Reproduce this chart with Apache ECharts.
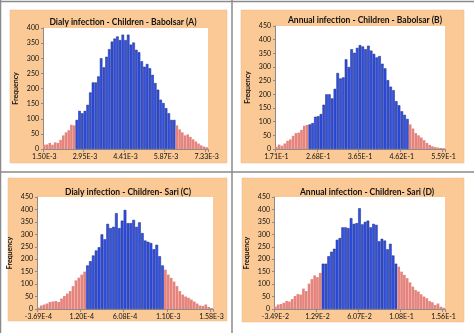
<!DOCTYPE html>
<html>
<head>
<meta charset="utf-8">
<script src="https://cdn.jsdelivr.net/npm/echarts@6/dist/echarts.min.js"></script>
<style>
  html, body { margin: 0; padding: 0; background: #fff; }
  #chart { width: 474px; height: 333px; }
</style>
</head>
<body>
<div id="chart"></div>
<script>
// Histogram frequencies for each panel, split into the lower tail,
// the central band and the upper tail.
const aLow  = [14, 15, 20, 14, 22, 20, 30, 45, 55, 62, 80, 78];
const aMid  = [96, 126, 118, 126, 146, 187, 220, 220, 240, 300, 270, 305, 330, 355,
               365, 372, 360, 378, 360, 378, 345, 352, 328, 320, 290, 272, 281, 267,
               245, 218, 196, 163, 152, 135, 118, 96, 96];
const aHigh = [78, 65, 55, 45, 48, 40, 32, 25, 18, 12, 8, 6];

const bLow  = [8, 16, 12, 20, 30, 35, 48, 58, 60, 70, 85, 88];
const bMid  = [90, 95, 118, 120, 128, 162, 200, 200, 185, 220, 278, 258, 262, 328,
               300, 365, 352, 370, 380, 375, 365, 378, 360, 348, 335, 340, 312, 295,
               252, 228, 215, 175, 160, 138, 125, 110];
const bHigh = [90, 75, 58, 50, 42, 32, 22, 15, 10, 7, 5, 4, 3];

const cLow  = [6, 14, 18, 22, 28, 30, 32, 28, 42, 52, 62, 72, 92, 115, 126, 138, 150];
const cMid  = [175, 192, 215, 235, 248, 300, 280, 342, 325, 330, 385, 325, 355, 398,
               345, 345, 358, 330, 348, 305, 275, 270, 265, 240, 258, 212, 175];
const cHigh = [158, 138, 125, 110, 92, 72, 58, 50, 45, 38, 30, 22, 14, 12, 18, 8, 4];

const dLow  = [10, 18, 20, 25, 32, 30, 40, 52, 60, 58, 82, 72, 102, 120, 135, 128, 145];
const dMid  = [182, 182, 212, 230, 242, 278, 285, 328, 328, 325, 365, 342, 345, 405,
               340, 350, 355, 328, 342, 338, 272, 282, 275, 240, 262, 215, 182];
const dHigh = [170, 150, 137, 124, 107, 90, 76, 70, 59, 50, 43, 32, 27, 16, 22, 9, 5];

// Axis tick labels (one every 15 bins)
const aTicks = ['1.50E-3', '2.95E-3', '4.41E-3', '5.87E-3', '7.33E-3'];
const bTicks = ['1.71E-1', '2.68E-1', '3.65E-1', '4.62E-1', '5.59E-1'];
const cTicks = ['-3.69E-4', '1.20E-4', '6.08E-4', '1.10E-3', '1.58E-3'];
const dTicks = ['-3.49E-2', '1.29E-2', '6.07E-2', '1.08E-1', '1.56E-1'];

const titles = [
  'Dialy infection - Children - Babolsar (A)',
  'Annual infection - Children - Babolsar (B)',
  'Dialy infection - Children- Sari (C)',
  'Annual infection - Children- Sari (D)'
];
const yMax = [400, 450, 450, 450];

const TAIL = '#E5847D';
const BAND = '#2E52F0';
const BAND_EDGE = '#1A2470';
const PEACH = '#FAC995';
const FONT = 'Lato, "Noto Sans", sans-serif';

function buildData(low, mid, high) {
  const out = [];
  low.forEach(v => out.push({ value: v, itemStyle: { color: TAIL, borderWidth: 0 } }));
  mid.forEach(v => out.push({ value: v, itemStyle: { color: BAND, borderColor: BAND_EDGE, borderWidth: 0.5 } }));
  high.forEach(v => out.push({ value: v, itemStyle: { color: TAIL, borderWidth: 0 } }));
  return out;
}

const panels = [
  { data: buildData(aLow, aMid, aHigh), ticks: aTicks,
    grid: { left: 43, top: 28, width: 165, height: 121 }, bg: [10, 10, 217, 153], title: [118, 13] },
  { data: buildData(bLow, bMid, bHigh), ticks: bTicks,
    grid: { left: 275, top: 26, width: 170, height: 123 }, bg: [241, 10, 223, 153], title: [360, 11] },
  { data: buildData(cLow, cMid, cHigh), ticks: cTicks,
    grid: { left: 37, top: 197, width: 176, height: 112 }, bg: [8, 178, 219, 143], title: [123, 183] },
  { data: buildData(dLow, dMid, dHigh), ticks: dTicks,
    grid: { left: 274, top: 197, width: 171, height: 112 }, bg: [242, 178, 222, 144], title: [362, 183] }
];

const option = {
  animation: false,
  backgroundColor: '#ffffff',
  textStyle: { fontFamily: FONT },
  graphic: [],
  title: [],
  grid: [],
  xAxis: [],
  yAxis: [],
  series: []
};

// panel frames
const frame = { stroke: '#8a8a8a', lineWidth: 1.5 };
option.graphic.push(
  { type: 'line', shape: { x1: 0, y1: 1.5, x2: 474, y2: 1.5 }, style: frame, z: -5 },
  { type: 'line', shape: { x1: 0, y1: 172, x2: 474, y2: 172 }, style: frame, z: -5 },
  { type: 'line', shape: { x1: 232, y1: 0, x2: 232, y2: 333 }, style: frame, z: -5 },
  { type: 'line', shape: { x1: 0.5, y1: 0, x2: 0.5, y2: 333 }, style: frame, z: -5 }
);

panels.forEach((p, i) => {
  option.graphic.push({
    type: 'rect', z: -10,
    shape: { x: p.bg[0], y: p.bg[1], width: p.bg[2], height: p.bg[3] },
    style: { fill: PEACH, stroke: '#e9b988', lineWidth: 0.5 }
  });
  option.graphic.push({
    type: 'rect', z: -9,
    shape: { x: p.grid.left, y: p.grid.top, width: p.grid.width, height: p.grid.height },
    style: { fill: '#ffffff' }
  });
  option.title.push({
    text: titles[i],
    left: p.title[0], top: p.title[1], textAlign: 'center',
    textStyle: { fontFamily: FONT, fontSize: 8.5, fontWeight: 'bold', color: '#111' }
  });
  option.grid.push(Object.assign({ containLabel: false }, p.grid));
  option.xAxis.push({
    type: 'category', gridIndex: i,
    data: p.data.map((_, k) => String(k)),
    axisLine: { lineStyle: { color: '#8c8c8c', width: 1 } },
    axisTick: { show: true, length: 3, interval: k => k % 15 === 0, lineStyle: { color: '#8c8c8c' } },
    axisLabel: {
      interval: k => k % 15 === 0,
      formatter: (v, k) => p.ticks[k / 15] || '',
      fontSize: 7, color: '#111', margin: 4, fontFamily: FONT
    }
  });
  option.yAxis.push({
    type: 'value', gridIndex: i, min: 0, max: yMax[i], interval: 50,
    name: 'Frequency', nameLocation: 'middle', nameRotate: 90, nameGap: 24,
    nameTextStyle: { fontSize: 7, fontWeight: 'bold', color: '#111', fontFamily: FONT },
    splitLine: { show: false },
    axisLine: { show: true, lineStyle: { color: '#8c8c8c' } },
    axisTick: { show: true, length: 2, lineStyle: { color: '#8c8c8c' } },
    axisLabel: { fontSize: 7, color: '#111', margin: 4, fontFamily: FONT }
  });
  option.series.push({
    type: 'bar', xAxisIndex: i, yAxisIndex: i,
    barCategoryGap: '6%',
    data: p.data
  });
});

const chart = echarts.init(document.getElementById('chart'), null, { renderer: 'canvas' });
chart.setOption(option);
</script>
</body>
</html>
